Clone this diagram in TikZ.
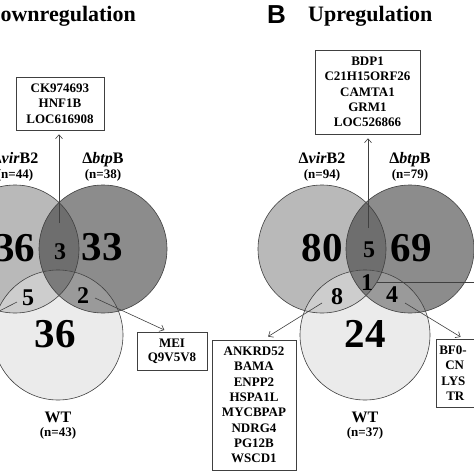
\documentclass[tikz,border=0pt]{standalone}
\usepackage{fontspec}
\setmainfont{Liberation Serif}
\setsansfont{Liberation Sans}
\usetikzlibrary{arrows.meta}

\definecolor{setL}{HTML}{B9B9B9}
\definecolor{setR}{HTML}{8C8C8C}
\definecolor{setLR}{HTML}{6E6E6E}
\definecolor{setW}{HTML}{EBEBEB}
\definecolor{setLW}{HTML}{CDCDCD}
\definecolor{setRW}{HTML}{9A9A9A}
\definecolor{setLRW}{HTML}{7B7B7B}
\definecolor{edge}{HTML}{404040}

\begin{document}
\begin{tikzpicture}[
  x=1pt, y=-1pt,
  title/.style={font=\fontsize{22}{22}\selectfont\bfseries, inner sep=0},
  setname/.style={font=\fontsize{16}{16}\selectfont\bfseries, inner sep=0, anchor=base},
  setsize/.style={font=\fontsize{13}{13}\selectfont\bfseries, inner sep=0, anchor=base},
  bignum/.style={font=\fontsize{41}{41}\selectfont\bfseries, inner sep=0},
  smallnum/.style={font=\fontsize{24}{24}\selectfont\bfseries, inner sep=0},
  genebox/.style={draw=edge, line width=0.6pt, fill=white, align=center, inner sep=0,
    font=\fontsize{13}{15.3}\selectfont\bfseries},
  link/.style={draw=edge, line width=0.6pt},
  >={Straight Barb[length=4pt,width=7pt]}
]
\useasboundingbox (0,0) rectangle (474,474);
\clip (0,0) rectangle (474,474);
\fill[white] (0,0) rectangle (474,474);

% the two Venn diagrams
\foreach \dx in {0,307} {
  \begin{scope}[shift={(\dx,0)}]
    \fill[setL] (15,249) circle [radius=64];
    \fill[setR] (103,249) circle [radius=64];
    \begin{scope}
      \clip (15,249) circle [radius=64];
      \fill[setLR] (103,249) circle [radius=64];
    \end{scope}
    \fill[setW] (58,335) circle [radius=65];
    \begin{scope}
      \clip (58,335) circle [radius=65];
      \fill[setLW] (15,249) circle [radius=64];
      \fill[setRW] (103,249) circle [radius=64];
      \clip (15,249) circle [radius=64];
      \fill[setLRW] (103,249) circle [radius=64];
    \end{scope}
    \draw[link] (15,249) circle [radius=64];
    \draw[link] (103,249) circle [radius=64];
    \draw[link] (58,335) circle [radius=65];
  \end{scope}
}

% panel A
\node[title, anchor=base east] (titleA) at (136,21) {Downregulation};
\node[setname] (virA) at (15,163) {Δ\textit{vir}B2};
\node[setsize] (virAn) at (15,178) {(n=44)};
\node[setname] (btpA) at (103,163) {Δ\textit{btp}B};
\node[setsize] (btpAn) at (103,178) {(n=38)};
\node[setname] (wtA) at (58,422) {WT};
\node[setsize] (wtAn) at (58,436) {(n=43)};

\node[bignum] (onlyvirA) at (15,248) {36};
\node[bignum] (onlybtpA) at (102,247) {33};
\node[bignum] (onlywtA) at (55,334) {36};
\node[smallnum] (vbA) at (60,252) {3};
\node[smallnum] (vwA) at (28,298) {5};
\node[smallnum] (bwA) at (83,296) {2};

\node[genebox, minimum width=88pt, minimum height=53pt] (boxA) at (60,103.5)
  {CK974693\\HNF1B\\LOC616908};
\node[genebox, minimum width=70pt, minimum height=38pt, font=\fontsize{13}{14}\selectfont\bfseries]
  (boxB) at (172,351) {MEI\\Q9V5V8};

\coordinate (vbAfrom) at (59,223);
\coordinate (vwAfrom) at (17,302);
\coordinate (vwAto) at (-44,333);
\coordinate (bwAfrom) at (95,298);
\draw[link, ->, shorten >=4pt] (vbAfrom) -- (vbAfrom |- boxA.south);
\draw[link, ->] (vwAfrom) -- (vwAto);
\draw[link, ->, shorten >=4pt] (bwAfrom) -- ([xshift=-4pt]boxB.north);

% panel B
\node[font=\sffamily\bfseries\fontsize{26}{26}\selectfont, inner sep=0, anchor=base west]
  (panelB) at (267,23) {B};
\node[title, anchor=base west] (titleB) at (308,21) {Upregulation};
\node[setname] (virB) at (322,163) {Δ\textit{vir}B2};
\node[setsize] (virBn) at (322,178) {(n=94)};
\node[setname] (btpB) at (410,163) {Δ\textit{btp}B};
\node[setsize] (btpBn) at (410,178) {(n=79)};
\node[setname] (wtB) at (365,422) {WT};
\node[setsize] (wtBn) at (365,436) {(n=37)};

\node[bignum] (onlyvirB) at (322,248) {80};
\node[bignum] (onlybtpB) at (411,248) {69};
\node[bignum] (onlywtB) at (365,334) {24};
\node[smallnum] (vbB) at (369,250) {5};
\node[smallnum] (allB) at (367,283) {1};
\node[smallnum] (vwB) at (337,297) {8};
\node[smallnum] (bwB) at (392,295) {4};

\node[genebox, minimum width=105pt, minimum height=84pt] (boxC) at (367.5,92)
  {BDP1\\C21H15ORF26\\CAMTA1\\GRM1\\LOC526866};
\node[genebox, minimum width=84pt, minimum height=130pt] (boxE) at (254,405)
  {ANKRD52\\BAMA\\ENPP2\\HSPA1L\\MYCBPAP\\NDRG4\\PG12B\\WSCD1};
\node[genebox, anchor=north west, align=left, inner xsep=3pt, text width=85pt,
  minimum height=68pt] (boxD) at (436,339)
  {BF0-\\\hspace*{6pt}CN\\\hspace*{2pt}LYS\\\hspace*{7pt}TR};

\coordinate (vbBfrom) at (368,228);
\coordinate (allBfrom) at (377,282);
\coordinate (allBto) at (530,282);
\coordinate (vwBfrom) at (322,303);
\coordinate (bwBfrom) at (405,303);
\draw[link, ->, shorten >=4pt] (vbBfrom) -- (vbBfrom |- boxC.south);
\draw[link, ->] (allBfrom) -- (allBto);
\draw[link, ->, shorten >=6pt] (vwBfrom) -- ([xshift=9pt]boxE.north);
\draw[link, ->, shorten >=4pt] (bwBfrom) -- ([xshift=28pt]boxD.north west);
\end{tikzpicture}
\end{document}
